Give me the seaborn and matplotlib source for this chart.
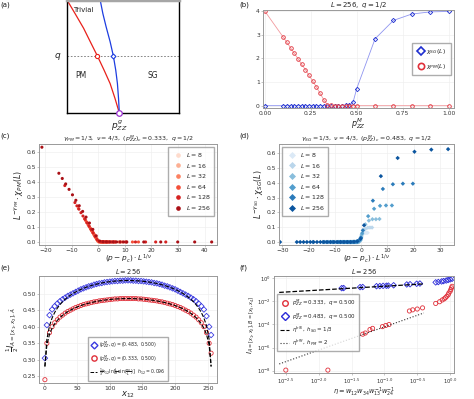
import numpy as np
import pandas as pd
import matplotlib
matplotlib.use("Agg")
import matplotlib.pyplot as plt
from matplotlib.lines import Line2D
from matplotlib.ticker import FixedLocator, NullLocator
import seaborn as sns

# (a) schematic phase boundaries, in axes units
pm_x = [0.000, 0.074, 0.148, 0.213, 0.272, 0.331, 0.385, 0.429, 0.467]
pm_y = [1.000, 0.876, 0.750, 0.620, 0.503, 0.379, 0.260, 0.127, 0.000]
sg_x = [0.296, 0.320, 0.349, 0.385, 0.414, 0.435, 0.450, 0.460, 0.467]
sg_y = [1.000, 0.880, 0.763, 0.630, 0.503, 0.379, 0.260, 0.127, 0.000]
q_level = 0.503

# (b)-(d) susceptibilities on the shared p_ZZ^M grid
p_grid = [0.00, 0.10, 0.12, 0.14, 0.16, 0.18, 0.20, 0.22, 0.24, 0.26, 0.28, 0.30, 0.32,
          0.34, 0.36, 0.38, 0.40, 0.42, 0.44, 0.46, 0.48, 0.50,
          0.60, 0.70, 0.80, 0.90, 1.00]
L_sizes = [8, 16, 32, 64, 128, 256]

chi_pm_8 = [0.094, 0.066, 0.060, 0.054, 0.049, 0.043, 0.037, 0.032, 0.026, 0.021, 0.015, 0.010, 0.005,
            0.002, 0.001, 0, 0, 0, 0, 0, 0, 0, 0, 0, 0, 0, 0]
chi_pm_16 = [0.199, 0.139, 0.127, 0.115, 0.103, 0.091, 0.079, 0.067, 0.056, 0.044, 0.032, 0.020, 0.009,
             0.004, 0.002, 0.001, 0, 0, 0, 0, 0, 0, 0, 0, 0, 0, 0]
chi_pm_32 = [0.42, 0.295, 0.269, 0.244, 0.219, 0.193, 0.168, 0.143, 0.118, 0.092, 0.067, 0.042, 0.018,
             0.007, 0.003, 0.001, 0.001, 0, 0, 0, 0, 0, 0, 0, 0, 0, 0]
chi_pm_64 = [0.89, 0.62, 0.57, 0.52, 0.46, 0.41, 0.36, 0.30, 0.25, 0.20, 0.14, 0.09, 0.04,
             0.012, 0.004, 0.002, 0.001, 0.001, 0, 0, 0, 0, 0, 0, 0, 0, 0]
chi_pm_128 = [1.89, 1.32, 1.21, 1.10, 0.98, 0.87, 0.76, 0.64, 0.53, 0.42, 0.31, 0.19, 0.08,
              0.02, 0.006, 0.003, 0.002, 0.001, 0.001, 0, 0, 0, 0, 0, 0, 0, 0]
chi_pm_256 = [4.00, 2.90, 2.68, 2.45, 2.22, 1.99, 1.76, 1.53, 1.29, 1.05, 0.80, 0.53, 0.26,
              0.04, 0.01, 0.005, 0.003, 0.002, 0.001, 0.001, 0, 0, 0, 0, 0, 0, 0]

chi_sg_8 = [0, 0, 0, 0, 0, 0, 0, 0, 0, 0, 0, 0, 0.002, 0.005, 0.01, 0.015, 0.02, 0.03, 0.04, 0.055,
            0.07, 0.09, 0.11, 0.12, 0.124, 0.125, 0.125]
chi_sg_16 = [0, 0, 0, 0, 0, 0, 0, 0, 0, 0, 0, 0, 0, 0.002, 0.005, 0.007, 0.01, 0.015, 0.025, 0.04,
             0.063, 0.10, 0.20, 0.23, 0.245, 0.247, 0.247]
chi_sg_32 = [0, 0, 0, 0, 0, 0, 0, 0, 0, 0, 0, 0, 0, 0, 0.002, 0.004, 0.006, 0.01, 0.02, 0.04,
             0.095, 0.16, 0.38, 0.46, 0.49, 0.49, 0.495]
chi_sg_64 = [0, 0, 0, 0, 0, 0, 0, 0, 0, 0, 0, 0, 0, 0, 0, 0.002, 0.003, 0.005, 0.02, 0.05,
             0.12, 0.24, 0.70, 0.90, 0.98, 0.99, 0.99]
chi_sg_128 = [0, 0, 0, 0, 0, 0, 0, 0, 0, 0, 0, 0, 0, 0, 0, 0, 0.002, 0.004, 0.02, 0.06,
              0.15, 0.40, 1.41, 1.81, 1.97, 1.99, 1.99]
chi_sg_256 = [0, 0, 0, 0, 0, 0, 0, 0, 0, 0, 0, 0, 0, 0, 0, 0, 0, 0, 0.01, 0.03,
              0.14, 0.72, 2.83, 3.61, 3.88, 3.97, 3.99]

gamma = 1 / 3
nu = 4 / 3
pc_pm = 0.333
pc_sg = 0.483

# (e) mutual information vs x12 at L = 256
L_e = 256
x12 = [1, 4, 8, 12, 16, 20, 24, 28, 32, 36, 40, 44, 48, 52, 56, 60, 64, 68, 72, 76, 80, 84, 88, 92,
       96, 100, 104, 108, 112, 116, 120, 124, 128, 132, 136, 140, 144, 148, 152, 156, 160, 164, 168,
       172, 176, 180, 184, 188, 192, 196, 200, 204, 208, 212, 216, 220, 224, 228, 232, 236, 240, 244,
       248, 252, 255]
mi_sg = [0.305, 0.405, 0.435, 0.452, 0.462, 0.470, 0.477, 0.483, 0.488, 0.493, 0.497, 0.501, 0.505,
         0.509, 0.513, 0.516, 0.519, 0.522, 0.524, 0.527, 0.529, 0.531, 0.532, 0.534, 0.535, 0.536,
         0.537, 0.538, 0.538, 0.539, 0.539, 0.540, 0.540, 0.540, 0.539, 0.539, 0.538, 0.538, 0.537,
         0.536, 0.535, 0.534, 0.532, 0.531, 0.529, 0.527, 0.524, 0.522, 0.519, 0.516, 0.513, 0.509,
         0.505, 0.501, 0.497, 0.493, 0.488, 0.483, 0.477, 0.470, 0.462, 0.452, 0.432, 0.400, 0.375]
mi_pm = [0.240, 0.350, 0.382, 0.400, 0.412, 0.421, 0.429, 0.435, 0.441, 0.446, 0.450, 0.454, 0.458,
         0.461, 0.464, 0.467, 0.469, 0.471, 0.473, 0.475, 0.476, 0.478, 0.479, 0.480, 0.481, 0.482,
         0.483, 0.484, 0.484, 0.485, 0.485, 0.485, 0.485, 0.485, 0.485, 0.485, 0.484, 0.484, 0.483,
         0.482, 0.481, 0.480, 0.479, 0.478, 0.476, 0.475, 0.473, 0.471, 0.469, 0.467, 0.464, 0.461,
         0.458, 0.454, 0.450, 0.446, 0.441, 0.435, 0.429, 0.421, 0.412, 0.400, 0.382, 0.350, 0.320]
fit_slope_sg = 0.059
fit_slope_pm = 0.0466
fit_offset = 0.28

# (f) mutual information vs cross ratio (log10 values)
eta_exp_pm = [-2.50, -1.86, -1.33, -1.29, -1.22, -1.18, -1.03, -0.98, -0.93, -0.62, -0.57, -0.50,
              -0.42, -0.22, -0.16, -0.12, -0.09, -0.07, -0.05, -0.03, -0.02, 0.00, 0.01, 0.02, 0.03]
I_exp_pm = [-7.95, -7.95, -4.85, -4.75, -4.45, -4.35, -4.20, -4.10, -4.02, -2.85, -2.75, -2.68,
            -2.58, -2.20, -2.05, -1.90, -1.80, -1.70, -1.58, -1.45, -1.30, -1.15, -1.00, -0.85, -0.72]
eta_exp_sg = [-1.65, -1.62, -1.37, -1.33, -1.12, -1.07, -1.02, -0.97, -0.94, -0.86, -0.66, -0.61,
              -0.51, -0.46, -0.22, -0.18, -0.13, -0.10, -0.06, -0.03, 0.00, 0.03]
I_exp_sg = [-0.88, -0.87, -0.79, -0.78, -0.71, -0.70, -0.68, -0.67, -0.66, -0.63, -0.56, -0.54,
            -0.50, -0.48, -0.38, -0.35, -0.30, -0.27, -0.22, -0.17, -0.12, -0.07]
guide_eta_exp = [-2.6, -0.4]
h_sg, amp_sg_exp = 1 / 3, -0.38
h_pm, amp_pm_exp = 2, -2.22

RED = "#e0303a"
BLUE = "#1f2fd0"

sns.set_style("whitegrid", {"axes.edgecolor": "0.6", "grid.color": "0.93",
                            "xtick.bottom": True, "ytick.left": True})
plt.rcParams["font.family"] = ["DejaVu Sans"]
plt.rcParams["axes.linewidth"] = 0.7
plt.rcParams["grid.linewidth"] = 0.4

fig = plt.figure(figsize=(4.74, 3.99), dpi=100)


def style(ax):
    ax.tick_params(labelsize=4.3, length=1.5, width=0.4, pad=0.8, colors="0.2")
    ax.tick_params(axis="both", color="0.6")


# ---------------- (a)
ax_a = fig.add_axes([0.1414, 0.7168, 0.2363, 0.2832])
ax_a.grid(False)
ax_a.axhline(q_level, color="0.45", ls=(0, (2, 2)), lw=0.6)
sns.lineplot(x=pm_x, y=pm_y, sort=False, estimator=None, color="#e8211b", lw=0.9, ax=ax_a)
sns.lineplot(x=sg_x, y=sg_y, sort=False, estimator=None, color="#1d3de0", lw=0.9, ax=ax_a)
ax_a.plot(pm_x[4], pm_y[4], "o", ms=3, mfc="white", mec="#e8211b", mew=0.8)
ax_a.plot(sg_x[4], sg_y[4], "D", ms=2.5, mfc="white", mec="#1d3de0", mew=0.8)
ax_a.plot(pm_x[-1], pm_y[-1], "o", ms=4, mfc="white", mec="#9b30d0", mew=0.9, clip_on=False, zorder=5)
ax_a.set_xlim(0, 1)
ax_a.set_ylim(0, 1)
ax_a.set_xticks([])
ax_a.set_yticks([])
for s in ["left", "right", "bottom"]:
    ax_a.spines[s].set_color("black")
    ax_a.spines[s].set_linewidth(1.0)
ax_a.spines["top"].set_color("0.65")
ax_a.spines["top"].set_linewidth(2.5)
ax_a.text(0.143, 0.91, "Trivial", fontsize=5, ha="center", va="center", color="0.15")
ax_a.text(0.125, 0.33, "PM", fontsize=5.5, ha="center", va="center", color="0.15")
ax_a.text(0.77, 0.33, "SG", fontsize=5.5, ha="center", va="center", color="0.15")
ax_a.text(-0.08, q_level, "$q$", fontsize=6.5, ha="center", va="center", transform=ax_a.transAxes)
ax_a.text(pm_x[-1], -0.11, "$p^{g}_{ZZ}$", fontsize=6.5, ha="center", va="center")

# ---------------- (b)
ax_b = fig.add_axes([0.5549, 0.7293, 0.403, 0.2456])
style(ax_b)
sns.lineplot(x=p_grid, y=chi_sg_256, ax=ax_b, color="#8f95f0", lw=0.6, marker="D", markersize=2.2,
             markerfacecolor="none", markeredgecolor=BLUE, markeredgewidth=0.6)
sns.lineplot(x=p_grid, y=chi_pm_256, ax=ax_b, color="#f29a9e", lw=0.6, marker="o", markersize=2.6,
             markerfacecolor="none", markeredgecolor=RED, markeredgewidth=0.6)
ax_b.set_xlim(-0.01, 1.03)
ax_b.set_ylim(-0.1, 4.05)
ax_b.set_xticks([0, 0.25, 0.5, 0.75, 1.0])
ax_b.set_xticklabels(["0.00", "0.25", "0.50", "0.75", "1.00"])
ax_b.set_yticks([0, 1, 2, 3, 4])
ax_b.set_xlabel("$p_{ZZ}^{M}$", fontsize=5.8, labelpad=0)
ax_b.set_ylabel("")
ax_b.set_title("$L=256,\\ q=1/2$", fontsize=5, pad=1.5)
hb = [Line2D([], [], ls="none", marker="D", ms=4, mfc="none", mec=BLUE, mew=1.2, label=r"$\chi_{SG}(L)$"),
      Line2D([], [], ls="none", marker="o", ms=4.5, mfc="none", mec=RED, mew=1.2, label=r"$\chi_{PM}(L)$")]
ax_b.legend(handles=hb, loc="center right", fontsize=4.5, fancybox=False, edgecolor="0.6",
            borderpad=0.7, handletextpad=0.3, labelspacing=0.9, handlelength=1.2)

# ---------------- (c) and (d)
chi_pm_by_L = [chi_pm_8, chi_pm_16, chi_pm_32, chi_pm_64, chi_pm_128, chi_pm_256]
chi_sg_by_L = [chi_sg_8, chi_sg_16, chi_sg_32, chi_sg_64, chi_sg_128, chi_sg_256]
labels = [f"$L={L}$" for L in L_sizes]


def collapse(chi_by_L, pc):
    rows = []
    for L, lab, chi in zip(L_sizes, labels, chi_by_L):
        for p, c in zip(p_grid, chi):
            rows.append({"L": lab, "x": (p - pc) * L ** (1 / nu), "y": L ** (-gamma) * c})
    return pd.DataFrame(rows)


df_c = collapse(chi_pm_by_L, pc_pm)
df_d = collapse(chi_sg_by_L, pc_sg)

xlab = r"$(p-p_c)\cdot L^{1/\nu}$"

ax_c = fig.add_axes([0.0823, 0.386, 0.3755, 0.253])
style(ax_c)
sns.scatterplot(data=df_c, x="x", y="y", hue="L", hue_order=labels,
                palette=sns.color_palette("Reds", 6), s=5, linewidth=0, ax=ax_c)
ax_c.set_xlim(-22.4, 44.7)
ax_c.set_ylim(-0.02, 0.651)
ax_c.set_xticks([-20, -10, 0, 10, 20, 30, 40])
ax_c.set_yticks([0, 0.1, 0.2, 0.3, 0.4, 0.5, 0.6])
ax_c.set_xlabel(xlab, fontsize=5.3, labelpad=-0.5)
ax_c.set_ylabel(r"$L^{-\gamma_{PM}}\cdot\chi_{PM}(L)$", fontsize=5.8, labelpad=1)
ax_c.set_title(r"$\gamma_{PM}=1/3,\ \nu=4/3,\ (p^{M}_{ZZ})_c=0.333,\ q=1/2$", fontsize=4.5, pad=1)
h, l = ax_c.get_legend_handles_labels()
ax_c.legend(h, l, loc="upper right", fontsize=4.5, markerscale=1.5, fancybox=False, edgecolor="0.6",
            borderpad=0.6, handletextpad=0.2, labelspacing=0.42)

ax_d = fig.add_axes([0.5886, 0.386, 0.369, 0.253])
style(ax_d)
sns.scatterplot(data=df_d, x="x", y="y", hue="L", hue_order=labels, marker="D",
                palette=sns.color_palette("Blues", 6), s=5, linewidth=0, ax=ax_d)
ax_d.set_xlim(-31.3, 35.3)
ax_d.set_ylim(-0.02, 0.663)
ax_d.set_xticks([-30, -20, -10, 0, 10, 20, 30])
ax_d.set_yticks([0, 0.1, 0.2, 0.3, 0.4, 0.5, 0.6])
ax_d.set_xlabel(xlab, fontsize=5.3, labelpad=-0.5)
ax_d.set_ylabel(r"$L^{-\gamma_{SG}}\cdot\chi_{SG}(L)$", fontsize=5.8, labelpad=1)
ax_d.set_title(r"$\gamma_{SG}=1/3,\ \nu=4/3,\ (p^{M}_{ZZ})_c=0.483,\ q=1/2$", fontsize=4.5, pad=1)
h, l = ax_d.get_legend_handles_labels()
ax_d.legend(h, l, loc="upper left", fontsize=4.5, markerscale=1.6, fancybox=False, edgecolor="0.6",
            borderpad=0.6, handletextpad=0.2, labelspacing=0.42)

# ---------------- (e)
ax_e = fig.add_axes([0.0823, 0.0401, 0.3755, 0.268])
style(ax_e)
x12_arr = np.array(x12, dtype=float)
log_chord = np.log(L_e / np.pi * np.sin(np.pi * x12_arr / L_e))
sns.scatterplot(x=x12, y=mi_sg, marker="D", s=8, facecolor="none", edgecolor="#3a3ae0",
                linewidth=0.6, ax=ax_e)
sns.scatterplot(x=x12, y=mi_pm, marker="o", s=9, facecolor="none", edgecolor=RED,
                linewidth=0.6, ax=ax_e)
sns.lineplot(x=x12, y=fit_offset + fit_slope_sg * log_chord, color="k", ls="--", lw=0.8, ax=ax_e)
sns.lineplot(x=x12, y=fit_offset + fit_slope_pm * log_chord, color="k", ls="--", lw=0.8, ax=ax_e)
ax_e.set_xlim(-8, 264)
ax_e.set_ylim(0.23, 0.553)
ax_e.set_xticks([0, 50, 100, 150, 200, 250])
ax_e.set_yticks([0.25, 0.30, 0.35, 0.40, 0.45, 0.50])
ax_e.set_yticklabels(["0.25", "0.30", "0.35", "0.40", "0.45", "0.50"])
ax_e.set_xlabel("$x_{12}$", fontsize=6, labelpad=-1.5)
ax_e.set_ylabel(r"$\frac{1}{2}I_{A=[x_1,x_2],\bar{A}}$", fontsize=5.8, labelpad=1)
ax_e.set_title("$L=256$", fontsize=4.8, pad=1)
he = [Line2D([], [], ls="none", marker="D", ms=3.5, mfc="none", mec="#3a3ae0", mew=1.0,
             label=r"$(p^{M}_{ZZ},q)=(0.483,\ 0.500)$"),
      Line2D([], [], ls="none", marker="o", ms=3.8, mfc="none", mec=RED, mew=1.0,
             label=r"$(p^{M}_{ZZ},q)=(0.333,\ 0.500)$"),
      Line2D([], [], color="k", ls="--", lw=0.7,
             label=r"$\frac{1}{3}h_{12}\ln[\frac{L}{\pi}\sin(\frac{\pi x}{L})],\ h_{12}=0.096$")]
ax_e.legend(handles=he, loc="lower center", bbox_to_anchor=(0.5, 0.0), fontsize=3.3,
            fancybox=False, edgecolor="0.6", borderpad=0.6, handletextpad=0.4, labelspacing=0.6,
            handlelength=1.5)

# ---------------- (f)
ax_f = fig.add_axes([0.578, 0.064, 0.38, 0.244])
style(ax_f)
ax_f.set_xscale("log")
ax_f.set_yscale("log")
sns.scatterplot(x=10 ** np.array(eta_exp_pm), y=10 ** np.array(I_exp_pm), marker="o", s=9,
                facecolor="none", edgecolor=RED, linewidth=0.6, ax=ax_f)
sns.scatterplot(x=10 ** np.array(eta_exp_sg), y=10 ** np.array(I_exp_sg), marker="D", s=8,
                facecolor="none", edgecolor="#2a2ad8", linewidth=0.6, ax=ax_f)
guide_eta = 10 ** np.array(guide_eta_exp)
sns.lineplot(x=guide_eta, y=10 ** amp_sg_exp * guide_eta ** h_sg, color="k", ls="--", lw=0.9, ax=ax_f)
sns.lineplot(x=guide_eta, y=10 ** amp_pm_exp * guide_eta ** h_pm, color="0.2", ls=":", lw=0.8, ax=ax_f)
ax_f.set_xlim(10 ** -2.68, 10 ** 0.06)
ax_f.set_ylim(10 ** -8.24, 10 ** 0.16)
xt = [-2.5, -2.0, -1.5, -1.0, -0.5, 0.0]
ax_f.xaxis.set_major_locator(FixedLocator([10 ** v for v in xt]))
ax_f.set_xticklabels([f"$10^{{{v:.1f}}}$" for v in xt])
yt = [-8, -6, -4, -2, 0]
ax_f.yaxis.set_major_locator(FixedLocator([10.0 ** v for v in yt]))
ax_f.set_yticklabels([f"$10^{{{v}}}$" for v in yt])
ax_f.xaxis.set_minor_locator(NullLocator())
ax_f.yaxis.set_minor_locator(NullLocator())
ax_f.tick_params(labelsize=3.8, pad=0.6)
ax_f.set_xlabel(r"$\eta=w_{12}w_{34}w_{13}^{-1}w_{24}^{-1}$", fontsize=4.8, labelpad=0.3)
ax_f.set_ylabel(r"$I_{A=[x_1,x_2],B=[x_3,x_4]}$", fontsize=5, labelpad=1)
ax_f.set_title("$L=256$", fontsize=4.8, pad=1)
hf = [Line2D([], [], ls="none", marker="o", ms=4, mfc="none", mec=RED, mew=1.0,
             label=r"$p^{M}_{ZZ}=0.333,\ q=0.500$"),
      Line2D([], [], ls="none", marker="D", ms=3.6, mfc="none", mec="#2a2ad8", mew=1.0,
             label=r"$p^{M}_{ZZ}=0.483,\ q=0.500$"),
      Line2D([], [], color="k", ls="--", lw=0.8, label=r"$\eta^{h_{SG}},\ h_{SG}=1/3$"),
      Line2D([], [], color="0.2", ls=":", lw=0.8, label=r"$\eta^{h_{PM}},\ h_{PM}=2$")]
ax_f.legend(handles=hf, loc="center left", bbox_to_anchor=(0.0, 0.52), fontsize=4,
            fancybox=False, edgecolor="0.6", borderpad=0.6, handletextpad=0.5, labelspacing=0.5,
            handlelength=1.6)

# panel letters
for lab, x, y in [("(a)", 0.0, 0.987), ("(b)", 0.506, 0.987), ("(c)", 0.0, 0.66),
                  ("(d)", 0.506, 0.66), ("(e)", 0.0, 0.329), ("(f)", 0.506, 0.329)]:
    fig.text(x, y, lab, fontsize=5, ha="left", va="center", color="0.1")

fig.savefig("out.png", dpi=100)
